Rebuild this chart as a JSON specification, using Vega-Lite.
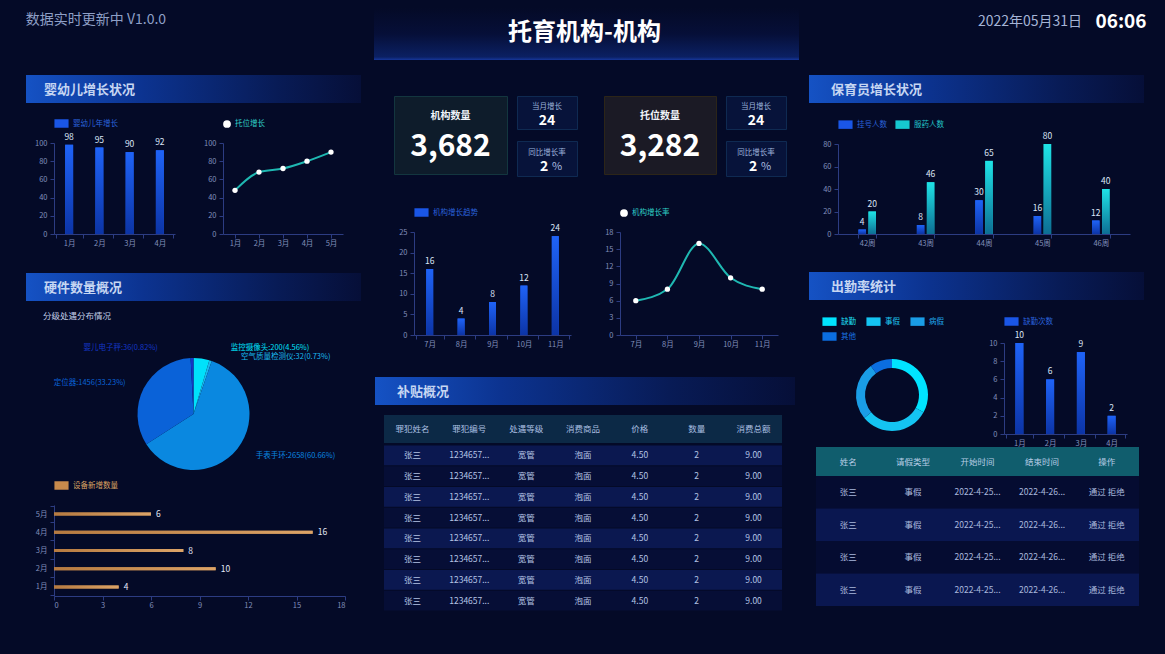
{
"$schema":"https://vega.github.io/schema/vega-lite/v6.json",
"background":"#040a27",
"padding":{"left":25,"top":8,"right":20,"bottom":43},
"config":{
 "font":"Noto Sans CJK SC",
 "view":{"stroke":null},
 "axis":{"domainColor":"#2c3c82","tickColor":"#2c3c82","labelColor":"#8190bc","labelFontSize":7.5,"grid":false,"title":null,"tickSize":4,"labelPadding":3},
 "axisX":{"labelAngle":0,"labelPadding":1},
 "axisBand":{"tickBand":"extent"},
 "legend":{"orient":"top","direction":"horizontal","symbolType":"M-1,-0.6H1V0.6H-1Z","symbolSize":200,"symbolStrokeWidth":0,"labelFontSize":7.5,"padding":0,"labelOffset":4,"columnPadding":8,"offset":15},
 "title":{"anchor":"start"}
},
"spacing":15,
"resolve":{"scale":{"x":"independent","y":"independent","color":"independent","theta":"independent","xOffset":"independent"},"legend":{"color":"independent"}},
"vconcat":[
{
 "hconcat":[
  {"width":150,"height":52,"data":{"values":[{"文字":"数据实时更新中 V1.0.0"}]},"mark":{"type":"text","dx":-5,"dy":-14,"fontSize":14,"color":"#8e9fc6"},"encoding":{"text":{"field":"文字"}}},
  {"width":198,"height":1,"data":{"values":[]},"mark":"rect"},
  {"width":425,"height":52,"data":{"values":[{"文字":"托育机构-机构"}]},
   "layer":[
    {"mark":{"type":"rect","color":{"gradient":"linear","x1":0,"y1":0,"x2":0,"y2":1,"stops":[{"offset":0,"color":"#040a27"},{"offset":0.5,"color":"#060f38"},{"offset":0.94,"color":"#0b2062"},{"offset":1,"color":"#16369a"}]}},"encoding":{}},
    {"mark":{"type":"text","dx":-2,"dy":-1,"fontSize":24,"fontWeight":"bold","color":"#ffffff"},"encoding":{"text":{"field":"文字"}}}
   ]},
  {"width":177,"height":1,"data":{"values":[]},"mark":"rect"},
  {"width":170,"height":52,"data":{"values":[{"日期":"2022年05月31日","时间":"06:06"}]},
   "layer":[
    {"mark":{"type":"text","dx":-31,"dy":-12,"fontSize":14,"color":"#a5b4d6"},"encoding":{"text":{"field":"日期"}}},
    {"mark":{"type":"text","dx":60,"dy":-12,"fontSize":19,"fontWeight":"bold","color":"#ffffff"},"encoding":{"text":{"field":"时间"}}}
   ]}
 ],"spacing":0,"bounds":"flush"
},
{
 "hconcat":[
 {
  "vconcat":[
   {"width":335,"height":28,"data":{"values":[{}]},"mark":{"type":"rect","color":{"gradient":"linear","x1":0,"y1":0,"x2":1,"y2":0,"stops":[{"offset":0,"color":"#1552c4"},{"offset":0.35,"color":"#0c3390"},{"offset":0.75,"color":"#081b56"},{"offset":1,"color":"#060f38"}]}},"encoding":{},"title":{"text":"婴幼儿增长状况","anchor":"start","dx":18,"offset":-22,"fontSize":13,"fontWeight":"bold","color":"#c6d6f2"}},
   {"width":1,"height":13,"data":{"values":[]},"mark":"rect"},
   {"hconcat":[
     {"width":28,"height":1,"data":{"values":[]},"mark":"rect"},
     {
      "width":121,"height":91,
      "data":{"values":[{"月份":"1月","人数":98},{"月份":"2月","人数":95},{"月份":"3月","人数":90},{"月份":"4月","人数":92}]},
      "encoding":{"x":{"field":"月份","type":"nominal","sort":null},"y":{"field":"人数","type":"quantitative","scale":{"domain":[0,100]},"axis":{"values":[0,20,40,60,80,100]}}},
      "layer":[
       {"mark":{"type":"bar","width":8},"encoding":{"color":{"datum":"婴幼儿年增长","scale":{"range":["#1a56e6"]},"legend":{"title":null,"labelColor":"#2a62dc"}}}},
       {"mark":{"type":"bar","width":8,"color":{"gradient":"linear","x1":0,"y1":0,"x2":0,"y2":1,"stops":[{"offset":0,"color":"#1f63f7"},{"offset":1,"color":"#0c34a6"}]}}},
       {"mark":{"type":"text","baseline":"bottom","dy":-3,"color":"#dde6f8","fontSize":8.5},"encoding":{"text":{"field":"人数"}}}
      ]
     },
     {"width":48,"height":1,"data":{"values":[]},"mark":"rect"},
     {
      "width":120,"height":91,
      "data":{"values":[{"月份":"1月","托位":48},{"月份":"2月","托位":68},{"月份":"3月","托位":72},{"月份":"4月","托位":80},{"月份":"5月","托位":90}]},
      "encoding":{"x":{"field":"月份","type":"ordinal","sort":null,"scale":{"type":"point","padding":0.5}},"y":{"field":"托位","type":"quantitative","scale":{"domain":[0,100]},"axis":{"values":[0,20,40,60,80,100]}}},
      "layer":[
       {"mark":{"type":"line","interpolate":"monotone","color":"#1fb8b2","strokeWidth":2}},
       {"mark":{"type":"point","filled":true,"size":28,"opacity":1},"encoding":{"color":{"datum":"托位增长","scale":{"range":["#ffffff"]},"legend":{"title":null,"symbolType":"circle","symbolSize":60,"labelColor":"#2fd0c8"}}}}
      ]
     }
    ],"spacing":0,"bounds":"flush","resolve":{"scale":{"x":"independent","y":"independent","color":"independent","theta":"independent","xOffset":"independent"},"legend":{"color":"independent"}}},
   {"width":1,"height":26,"data":{"values":[]},"mark":"rect"},
   {"width":335,"height":28,"data":{"values":[{}]},"mark":{"type":"rect","color":{"gradient":"linear","x1":0,"y1":0,"x2":1,"y2":0,"stops":[{"offset":0,"color":"#1552c4"},{"offset":0.35,"color":"#0c3390"},{"offset":0.75,"color":"#081b56"},{"offset":1,"color":"#060f38"}]}},"encoding":{},"title":{"text":"硬件数量概况","anchor":"start","dx":18,"offset":-22,"fontSize":13,"fontWeight":"bold","color":"#c6d6f2"}},
   {"width":1,"height":11,"data":{"values":[]},"mark":"rect"},
   {
    "width":335,"height":128,
    "title":{"text":"分级处遇分布情况","anchor":"start","dx":17,"offset":23,"fontSize":8.5,"fontWeight":"normal","color":"#c2cde6"},
    "data":{"values":[
     {"名称":"监控摄像头","数量":200,"序号":1,"标签":"监控摄像头:200(4.56%)"},
     {"名称":"空气质量检测仪","数量":32,"序号":2,"标签":"空气质量检测仪:32(0.73%)"},
     {"名称":"手表手环","数量":2658,"序号":3,"标签":"手表手环:2658(60.66%)"},
     {"名称":"定位器","数量":1456,"序号":4,"标签":"定位器:1456(33.23%)"},
     {"名称":"婴儿电子秤","数量":36,"序号":5,"标签":"婴儿电子秤:36(0.82%)"}
    ]},
    "encoding":{
     "theta":{"field":"数量","type":"quantitative","stack":true},
     "order":{"field":"序号","type":"quantitative"},
     "color":{"field":"名称","type":"nominal","scale":{"domain":["监控摄像头","空气质量检测仪","手表手环","定位器","婴儿电子秤"],"range":["#00e1fb","#19b8ee","#0a88e0","#0a62d8","#1436c4"]},"legend":null}
    },
    "layer":[
     {"mark":{"type":"arc","outerRadius":56}},
     {"mark":{"type":"text","radius":64,"fontSize":7.5,
       "align":{"expr":"datum['名称'] === '定位器' || datum['名称'] === '婴儿电子秤' ? 'right' : 'left'"},
       "dx":{"expr":"datum['名称'] === '监控摄像头' ? 28 : datum['名称'] === '空气质量检测仪' ? 28 : datum['名称'] === '手表手环' ? 12 : datum['名称'] === '定位器' ? -11 : -34"},
       "dy":{"expr":"datum['名称'] === '监控摄像头' ? -3 : datum['名称'] === '空气质量检测仪' ? 4 : datum['名称'] === '手表手环' ? 2 : -2"}},
      "encoding":{"text":{"field":"标签"}}}
    ]
   },
   {"hconcat":[
     {"width":28,"height":1,"data":{"values":[]},"mark":"rect"},
     {
      "width":291,"height":91,
      "data":{"values":[{"月份":"1月","数量":4},{"月份":"2月","数量":10},{"月份":"3月","数量":8},{"月份":"4月","数量":16},{"月份":"5月","数量":6}]},
      "encoding":{"y":{"field":"月份","type":"nominal","sort":["5月","4月","3月","2月","1月"]},"x":{"field":"数量","type":"quantitative","scale":{"domain":[0,18]},"axis":{"values":[0,3,6,9,12,15,18]}}},
      "layer":[
       {"mark":{"type":"bar","height":3},"encoding":{"color":{"datum":"设备新增数量","scale":{"range":["#c88a4c"]},"legend":{"title":null,"labelColor":"#d9a262"}}}},
       {"mark":{"type":"bar","height":3,"color":{"gradient":"linear","x1":0,"y1":0,"x2":1,"y2":0,"stops":[{"offset":0,"color":"#b67a40"},{"offset":1,"color":"#dca468"}]}}},
       {"mark":{"type":"text","align":"left","dx":5,"color":"#e2e8f6","fontSize":8.5},"encoding":{"text":{"field":"数量"}}}
      ]
     }
    ],"spacing":0,"bounds":"flush","resolve":{"scale":{"x":"independent","y":"independent","color":"independent","theta":"independent","xOffset":"independent"},"legend":{"color":"independent"}}}
  ],
  "spacing":0,"resolve":{"scale":{"x":"independent","y":"independent","color":"independent","theta":"independent","xOffset":"independent"},"legend":{"color":"independent"}}
 },
 {
  "vconcat":[
   {"width":1,"height":20,"data":{"values":[]},"mark":"rect"},
   {"hconcat":[
     {"width":18,"height":1,"data":{"values":[]},"mark":"rect"},
     {"width":113,"height":78,"view":{"fill":"#0e1c2b","stroke":"#13363f"},"title":{"text":"机构数量","anchor":"middle","offset":-25,"fontSize":10,"fontWeight":"bold","color":"#f0f4fa"},"data":{"values":[{"机构数量":3682}]},"mark":{"type":"text","dy":12,"fontSize":30,"fontWeight":"bold","color":"#ffffff"},"encoding":{"text":{"field":"机构数量","type":"quantitative","format":","}}},
     {"width":8,"height":1,"data":{"values":[]},"mark":"rect"},
     {"vconcat":[
       {"width":60,"height":33,"view":{"fill":"#07133a","stroke":"#0f2a52"},"title":{"text":"当月增长","anchor":"middle","offset":-14,"fontSize":7.5,"fontWeight":"normal","color":"#9db2da"},"data":{"values":[{"当月增长":24}]},"mark":{"type":"text","dy":8,"fontSize":14,"fontWeight":"bold","color":"#ffffff"},"encoding":{"text":{"field":"当月增长","type":"quantitative"}}},
       {"width":1,"height":10,"data":{"values":[]},"mark":"rect"},
       {"width":60,"height":35,"view":{"fill":"#07133a","stroke":"#0f2a52"},"title":{"text":"同比增长率","anchor":"middle","offset":-15,"fontSize":7.5,"fontWeight":"normal","color":"#9db2da"},"data":{"values":[{"同比增长率":2,"单位":"%"}]},
        "layer":[
         {"mark":{"type":"text","dy":8,"dx":-3,"fontSize":14,"fontWeight":"bold","color":"#ffffff"},"encoding":{"text":{"field":"同比增长率","type":"quantitative"}}},
         {"mark":{"type":"text","dy":8,"dx":10,"fontSize":11,"color":"#a9bbe0"},"encoding":{"text":{"field":"单位"}}}
        ]}
      ],"spacing":0},
     {"width":25,"height":1,"data":{"values":[]},"mark":"rect"},
     {"width":112,"height":78,"view":{"fill":"#1b1a25","stroke":"#2c2518"},"title":{"text":"托位数量","anchor":"middle","offset":-25,"fontSize":10,"fontWeight":"bold","color":"#f0f4fa"},"data":{"values":[{"托位数量":3282}]},"mark":{"type":"text","dy":12,"fontSize":30,"fontWeight":"bold","color":"#ffffff"},"encoding":{"text":{"field":"托位数量","type":"quantitative","format":","}}},
     {"width":8,"height":1,"data":{"values":[]},"mark":"rect"},
     {"vconcat":[
       {"width":60,"height":33,"view":{"fill":"#07133a","stroke":"#0f2a52"},"title":{"text":"当月增长","anchor":"middle","offset":-14,"fontSize":7.5,"fontWeight":"normal","color":"#9db2da"},"data":{"values":[{"当月增长":24}]},"mark":{"type":"text","dy":8,"fontSize":14,"fontWeight":"bold","color":"#ffffff"},"encoding":{"text":{"field":"当月增长","type":"quantitative"}}},
       {"width":1,"height":10,"data":{"values":[]},"mark":"rect"},
       {"width":60,"height":35,"view":{"fill":"#07133a","stroke":"#0f2a52"},"title":{"text":"同比增长率","anchor":"middle","offset":-15,"fontSize":7.5,"fontWeight":"normal","color":"#9db2da"},"data":{"values":[{"同比增长率":2,"单位":"%"}]},
        "layer":[
         {"mark":{"type":"text","dy":8,"dx":-3,"fontSize":14,"fontWeight":"bold","color":"#ffffff"},"encoding":{"text":{"field":"同比增长率","type":"quantitative"}}},
         {"mark":{"type":"text","dy":8,"dx":10,"fontSize":11,"color":"#a9bbe0"},"encoding":{"text":{"field":"单位"}}}
        ]}
      ],"spacing":0}
    ],"spacing":0},
   {"width":1,"height":28,"data":{"values":[]},"mark":"rect"},
   {"hconcat":[
     {"width":39,"height":1,"data":{"values":[]},"mark":"rect"},
     {
      "width":157,"height":103,
      "data":{"values":[{"月份":"7月","数量":16},{"月份":"8月","数量":4},{"月份":"9月","数量":8},{"月份":"10月","数量":12},{"月份":"11月","数量":24}]},
      "encoding":{"x":{"field":"月份","type":"nominal","sort":null},"y":{"field":"数量","type":"quantitative","scale":{"domain":[0,25]},"axis":{"values":[0,5,10,15,20,25]}}},
      "layer":[
       {"mark":{"type":"bar","width":7},"encoding":{"color":{"datum":"机构增长趋势","scale":{"range":["#1a56e6"]},"legend":{"title":null,"labelColor":"#2a62dc"}}}},
       {"mark":{"type":"bar","width":7,"color":{"gradient":"linear","x1":0,"y1":0,"x2":0,"y2":1,"stops":[{"offset":0,"color":"#1f63f7"},{"offset":1,"color":"#0c34a6"}]}}},
       {"mark":{"type":"text","baseline":"bottom","dy":-3,"color":"#dde6f8","fontSize":8.5},"encoding":{"text":{"field":"数量"}}}
      ]
     },
     {"width":49,"height":1,"data":{"values":[]},"mark":"rect"},
     {
      "width":158,"height":103,
      "data":{"values":[{"月份":"7月","增长率":6},{"月份":"8月","增长率":8},{"月份":"9月","增长率":16},{"月份":"10月","增长率":10},{"月份":"11月","增长率":8}]},
      "encoding":{"x":{"field":"月份","type":"ordinal","sort":null,"scale":{"type":"point","padding":0.5}},"y":{"field":"增长率","type":"quantitative","scale":{"domain":[0,18]},"axis":{"values":[0,3,6,9,12,15,18]}}},
      "layer":[
       {"mark":{"type":"line","interpolate":"monotone","color":"#1fb8b2","strokeWidth":2}},
       {"mark":{"type":"point","filled":true,"size":28,"opacity":1},"encoding":{"color":{"datum":"机构增长率","scale":{"range":["#ffffff"]},"legend":{"title":null,"symbolType":"circle","symbolSize":60,"labelColor":"#2fd0c8"}}}}
      ]
     }
    ],"spacing":0,"bounds":"flush","resolve":{"scale":{"x":"independent","y":"independent","color":"independent","theta":"independent","xOffset":"independent"},"legend":{"color":"independent"}}},
   {"width":1,"height":29,"data":{"values":[]},"mark":"rect"},
   {"width":420,"height":28,"data":{"values":[{}]},"mark":{"type":"rect","color":{"gradient":"linear","x1":0,"y1":0,"x2":1,"y2":0,"stops":[{"offset":0,"color":"#1552c4"},{"offset":0.3,"color":"#0c3390"},{"offset":0.7,"color":"#081b56"},{"offset":1,"color":"#060f38"}]}},"encoding":{},"title":{"text":"补贴概况","anchor":"start","dx":22,"offset":-22,"fontSize":13,"fontWeight":"bold","color":"#c6d6f2"}},
   {"width":1,"height":10,"data":{"values":[]},"mark":"rect"},
   {"hconcat":[
     {"width":9,"height":1,"data":{"values":[]},"mark":"rect"},
     {"width":398,"height":28,"view":{"fill":"#0c2946"},"data":{"values":[{"列":"罪犯姓名"},{"列":"罪犯编号"},{"列":"处遇等级"},{"列":"消费商品"},{"列":"价格"},{"列":"数量"},{"列":"消费总额"}]},"mark":{"type":"text","fontSize":8.5,"color":"#a9bfe0"},"encoding":{"x":{"field":"列","type":"nominal","sort":null,"axis":null,"scale":{"paddingInner":0,"paddingOuter":0}},"text":{"field":"列"}}}
    ],"spacing":0,"bounds":"flush"},
   {"width":1,"height":2,"data":{"values":[]},"mark":"rect"},
   {"hconcat":[
     {"width":9,"height":1,"data":{"values":[]},"mark":"rect"},
     {
      "width":398,"height":166,
      "data":{"values":[
       {"行":1,"罪犯姓名":"张三","罪犯编号":"1234657...","处遇等级":"宽管","消费商品":"泡面","价格":"4.50","数量":"2","消费总额":"9.00"},
       {"行":2,"罪犯姓名":"张三","罪犯编号":"1234657...","处遇等级":"宽管","消费商品":"泡面","价格":"4.50","数量":"2","消费总额":"9.00"},
       {"行":3,"罪犯姓名":"张三","罪犯编号":"1234657...","处遇等级":"宽管","消费商品":"泡面","价格":"4.50","数量":"2","消费总额":"9.00"},
       {"行":4,"罪犯姓名":"张三","罪犯编号":"1234657...","处遇等级":"宽管","消费商品":"泡面","价格":"4.50","数量":"2","消费总额":"9.00"},
       {"行":5,"罪犯姓名":"张三","罪犯编号":"1234657...","处遇等级":"宽管","消费商品":"泡面","价格":"4.50","数量":"2","消费总额":"9.00"},
       {"行":6,"罪犯姓名":"张三","罪犯编号":"1234657...","处遇等级":"宽管","消费商品":"泡面","价格":"4.50","数量":"2","消费总额":"9.00"},
       {"行":7,"罪犯姓名":"张三","罪犯编号":"1234657...","处遇等级":"宽管","消费商品":"泡面","价格":"4.50","数量":"2","消费总额":"9.00"},
       {"行":8,"罪犯姓名":"张三","罪犯编号":"1234657...","处遇等级":"宽管","消费商品":"泡面","价格":"4.50","数量":"2","消费总额":"9.00"}
      ]},
      "layer":[
       {"mark":{"type":"rect"},"encoding":{"y":{"field":"行","type":"ordinal","axis":null,"scale":{"paddingInner":0.06,"paddingOuter":0.03}},"color":{"condition":{"test":"datum['行'] % 2 === 1","value":"#0b1850"},"value":"#060e36"}}},
       {"transform":[{"fold":["罪犯姓名","罪犯编号","处遇等级","消费商品","价格","数量","消费总额"],"as":["列","内容"]}],"mark":{"type":"text","fontSize":8.5,"color":"#b4c3e4"},"encoding":{"y":{"field":"行","type":"ordinal","axis":null},"x":{"field":"列","type":"nominal","sort":["罪犯姓名","罪犯编号","处遇等级","消费商品","价格","数量","消费总额"],"axis":null,"scale":{"paddingInner":0,"paddingOuter":0}},"text":{"field":"内容"}}}
      ]
     }
    ],"spacing":0,"bounds":"flush"}
  ],
  "spacing":0,"resolve":{"scale":{"x":"independent","y":"independent","color":"independent","theta":"independent","xOffset":"independent"},"legend":{"color":"independent"}}
 },
 {
  "vconcat":[
   {"width":335,"height":28,"data":{"values":[{}]},"mark":{"type":"rect","color":{"gradient":"linear","x1":0,"y1":0,"x2":1,"y2":0,"stops":[{"offset":0,"color":"#1552c4"},{"offset":0.35,"color":"#0c3390"},{"offset":0.75,"color":"#081b56"},{"offset":1,"color":"#060f38"}]}},"encoding":{},"title":{"text":"保育员增长状况","anchor":"start","dx":22,"offset":-22,"fontSize":13,"fontWeight":"bold","color":"#c6d6f2"}},
   {"width":1,"height":14,"data":{"values":[]},"mark":"rect"},
   {"hconcat":[
     {"width":29,"height":1,"data":{"values":[]},"mark":"rect"},
     {
      "width":292,"height":90,
      "data":{"values":[
       {"周":"42周","类型":"挂号人数","人数":4},{"周":"42周","类型":"服药人数","人数":20},
       {"周":"43周","类型":"挂号人数","人数":8},{"周":"43周","类型":"服药人数","人数":46},
       {"周":"44周","类型":"挂号人数","人数":30},{"周":"44周","类型":"服药人数","人数":65},
       {"周":"45周","类型":"挂号人数","人数":16},{"周":"45周","类型":"服药人数","人数":80},
       {"周":"46周","类型":"挂号人数","人数":12},{"周":"46周","类型":"服药人数","人数":40}
      ]},
      "encoding":{
       "x":{"field":"周","type":"nominal","sort":null,"scale":{"paddingInner":0.7,"paddingOuter":0.35}},
       "xOffset":{"field":"类型","type":"nominal","scale":{"domain":["挂号人数","服药人数"],"paddingInner":0.25}},
       "y":{"field":"人数","type":"quantitative","scale":{"domain":[0,80]},"axis":{"values":[0,20,40,60,80]}}
      },
      "layer":[
       {"mark":"bar","encoding":{"color":{"field":"类型","type":"nominal","scale":{"domain":["挂号人数","服药人数"],"range":["#1a56e6","#16c8d0"]},"legend":{"title":null,"encode":{"labels":{"update":{"fill":{"signal":"datum.value === '挂号人数' ? '#2a62dc' : '#22c4c8'"}}}}}}}},
       {"transform":[{"filter":"datum['类型'] === '挂号人数'"}],"mark":{"type":"bar","color":{"gradient":"linear","x1":0,"y1":0,"x2":0,"y2":1,"stops":[{"offset":0,"color":"#1f63f7"},{"offset":1,"color":"#0c34a6"}]}}},
       {"transform":[{"filter":"datum['类型'] === '服药人数'"}],"mark":{"type":"bar","color":{"gradient":"linear","x1":0,"y1":0,"x2":0,"y2":1,"stops":[{"offset":0,"color":"#1fe3e6"},{"offset":1,"color":"#0d6e94"}]}}},
       {"mark":{"type":"text","baseline":"bottom","dy":-3,"color":"#dde6f8","fontSize":8.5},"encoding":{"text":{"field":"人数"}}}
      ]
     }
    ],"spacing":0,"bounds":"flush","resolve":{"scale":{"x":"independent","y":"independent","color":"independent","theta":"independent","xOffset":"independent"},"legend":{"color":"independent"}}},
   {"width":1,"height":25,"data":{"values":[]},"mark":"rect"},
   {"width":335,"height":28,"data":{"values":[{}]},"mark":{"type":"rect","color":{"gradient":"linear","x1":0,"y1":0,"x2":1,"y2":0,"stops":[{"offset":0,"color":"#1552c4"},{"offset":0.35,"color":"#0c3390"},{"offset":0.75,"color":"#081b56"},{"offset":1,"color":"#060f38"}]}},"encoding":{},"title":{"text":"出勤率统计","anchor":"start","dx":22,"offset":-22,"fontSize":13,"fontWeight":"bold","color":"#c6d6f2"}},
   {"width":1,"height":14,"data":{"values":[]},"mark":"rect"},
   {"hconcat":[
     {"width":13,"height":1,"data":{"values":[]},"mark":"rect"},
     {
      "width":140,"height":104,
      "data":{"values":[{"类型":"缺勤","占比":33,"序号":1},{"类型":"事假","占比":31,"序号":2},{"类型":"病假","占比":26,"序号":3},{"类型":"其他","占比":10,"序号":4}]},
      "mark":{"type":"arc","innerRadius":27,"outerRadius":36},
      "encoding":{
       "theta":{"field":"占比","type":"quantitative","stack":true},
       "order":{"field":"序号","type":"quantitative"},
       "color":{"field":"类型","type":"nominal","scale":{"domain":["缺勤","事假","病假","其他"],"range":["#00e4ff","#14c4f2","#1a9de6","#0b6ee0"]},"legend":{"title":null,"columns":3,"offset":2,"rowPadding":3,"columnPadding":10,"encode":{"labels":{"update":{"fill":{"signal":"datum.value === '缺勤' ? '#1ee2f6' : datum.value === '事假' ? '#1ec6ee' : datum.value === '病假' ? '#20a8ea' : '#1a74e4'"}}}}}}
      }
     },
     {"width":42,"height":1,"data":{"values":[]},"mark":"rect"},
     {
      "width":123,"height":91,
      "data":{"values":[{"月份":"1月","次数":10},{"月份":"2月","次数":6},{"月份":"3月","次数":9},{"月份":"4月","次数":2}]},
      "encoding":{"x":{"field":"月份","type":"nominal","sort":null},"y":{"field":"次数","type":"quantitative","scale":{"domain":[0,10]},"axis":{"values":[0,2,4,6,8,10]}}},
      "layer":[
       {"mark":{"type":"bar","width":8},"encoding":{"color":{"datum":"缺勤次数","scale":{"range":["#1a56e6"]},"legend":{"title":null,"labelColor":"#2a62dc","offset":17}}}},
       {"mark":{"type":"bar","width":8,"color":{"gradient":"linear","x1":0,"y1":0,"x2":0,"y2":1,"stops":[{"offset":0,"color":"#1f63f7"},{"offset":1,"color":"#0c34a6"}]}}},
       {"mark":{"type":"text","baseline":"bottom","dy":-3,"color":"#dde6f8","fontSize":8.5},"encoding":{"text":{"field":"次数"}}}
      ]
     }
    ],"spacing":0,"bounds":"flush","resolve":{"scale":{"x":"independent","y":"independent","color":"independent","theta":"independent","xOffset":"independent"},"legend":{"color":"independent"}}},
   {"hconcat":[
     {"width":7,"height":1,"data":{"values":[]},"mark":"rect"},
     {"width":323,"height":29,"view":{"fill":"#105d6d"},"data":{"values":[{"列":"姓名"},{"列":"请假类型"},{"列":"开始时间"},{"列":"结束时间"},{"列":"操作"}]},"mark":{"type":"text","fontSize":8.5,"color":"#b8cde6"},"encoding":{"x":{"field":"列","type":"nominal","sort":null,"axis":null,"scale":{"paddingInner":0,"paddingOuter":0}},"text":{"field":"列"}}}
    ],"spacing":0,"bounds":"flush"},
   {"hconcat":[
     {"width":7,"height":1,"data":{"values":[]},"mark":"rect"},
     {
      "width":323,"height":130,
      "data":{"values":[
       {"行":1,"姓名":"张三","请假类型":"事假","开始时间":"2022-4-25...","结束时间":"2022-4-26...","操作":"通过 拒绝"},
       {"行":2,"姓名":"张三","请假类型":"事假","开始时间":"2022-4-25...","结束时间":"2022-4-26...","操作":"通过 拒绝"},
       {"行":3,"姓名":"张三","请假类型":"事假","开始时间":"2022-4-25...","结束时间":"2022-4-26...","操作":"通过 拒绝"},
       {"行":4,"姓名":"张三","请假类型":"事假","开始时间":"2022-4-25...","结束时间":"2022-4-26...","操作":"通过 拒绝"}
      ]},
      "layer":[
       {"mark":{"type":"rect"},"encoding":{"y":{"field":"行","type":"ordinal","axis":null,"scale":{"paddingInner":0,"paddingOuter":0}},"color":{"condition":{"test":"datum['行'] % 2 === 1","value":"#050c31"},"value":"#0a1750"}}},
       {"transform":[{"fold":["姓名","请假类型","开始时间","结束时间","操作"],"as":["列","内容"]}],"mark":{"type":"text","fontSize":8.5,"color":"#a9b8dd"},"encoding":{"y":{"field":"行","type":"ordinal","axis":null},"x":{"field":"列","type":"nominal","sort":["姓名","请假类型","开始时间","结束时间","操作"],"axis":null,"scale":{"paddingInner":0,"paddingOuter":0}},"text":{"field":"内容"}}}
      ]
     }
    ],"spacing":0,"bounds":"flush"}
  ],
  "spacing":0,"resolve":{"scale":{"x":"independent","y":"independent","color":"independent","theta":"independent","xOffset":"independent"},"legend":{"color":"independent"}}
 }
 ],
 "spacing":14,"resolve":{"scale":{"x":"independent","y":"independent","color":"independent","theta":"independent","xOffset":"independent"},"legend":{"color":"independent"}}
}
]
}
